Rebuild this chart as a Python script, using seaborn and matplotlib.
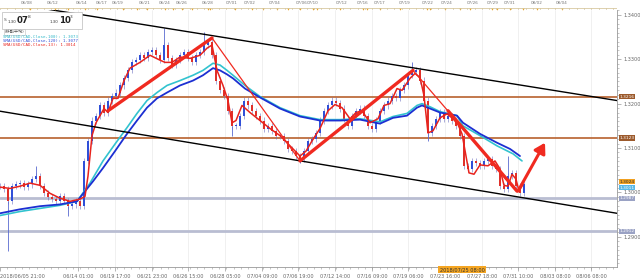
import numpy as np
import pandas as pd
import matplotlib
matplotlib.use("Agg")
import matplotlib.pyplot as plt
import seaborn as sns
from matplotlib.ticker import FixedLocator, MultipleLocator

sns.set_theme(style="white")
plt.rcParams['font.family'] = ['DejaVu Sans', 'Noto Sans CJK JP']

# ---------------- data (x = bar index, y = price) ----------------
close = [1.3014, 1.3007, 1.2980, 1.3014, 1.3018, 1.3021, 1.3012, 1.3018, 1.3030, 1.3037,
         1.3014, 1.2998, 1.2989, 1.2985, 1.2980, 1.2991, 1.2980, 1.2969, 1.2973, 1.2980,
         1.2969, 1.3071, 1.3116, 1.3162, 1.3173, 1.3196, 1.3180, 1.3207, 1.3218, 1.3225,
         1.3241, 1.3257, 1.3275, 1.3293, 1.3298, 1.3309, 1.3302, 1.3316, 1.3320, 1.3309,
         1.3298, 1.3332, 1.3302, 1.3287, 1.3298, 1.3309, 1.3316, 1.3302, 1.3293, 1.3309,
         1.3316, 1.3332, 1.3339, 1.3309, 1.3252, 1.3230, 1.3218, 1.3184, 1.3150, 1.3150,
         1.3173, 1.3207, 1.3196, 1.3184, 1.3173, 1.3162, 1.3144, 1.3150, 1.3139, 1.3128,
         1.3128, 1.3116, 1.3098, 1.3093, 1.3082, 1.3075, 1.3093, 1.3116, 1.3121, 1.3134,
         1.3162, 1.3184, 1.3196, 1.3207, 1.3202, 1.3189, 1.3166, 1.3150, 1.3173, 1.3184,
         1.3189, 1.3173, 1.3150, 1.3144, 1.3162, 1.3184, 1.3196, 1.3207, 1.3218, 1.3212,
         1.3230, 1.3241, 1.3264, 1.3271, 1.3275, 1.3252, 1.3207, 1.3134, 1.3150, 1.3166,
         1.3180, 1.3166, 1.3173, 1.3162, 1.3150, 1.3128, 1.3060, 1.3053, 1.3071, 1.3066,
         1.3060, 1.3071, 1.3075, 1.3060, 1.3053, 1.3014, 1.3007, 1.3037, 1.3044, 1.3014,
         1.2998, 1.3018]
wick_bar = [8, 36, 68, 164, 204, 232, 300, 412, 428, 508]
wick_price = [1.2867, 1.3060, 1.2946, 1.3370, 1.3361, 1.3128, 1.3066, 1.3293, 1.3116, 1.3082]

sma13_bar = [0, 10, 20, 30, 40, 50, 60, 70, 80, 85, 88, 92, 96, 104, 108, 113, 118, 124, 130, 140,
             150, 160, 165, 172, 180, 190, 200, 207, 212, 217, 223, 228, 232, 236, 242, 250, 260,
             270, 280, 290, 300, 306, 312, 320, 328, 335, 342, 350, 356, 362, 370, 378, 384, 390,
             397, 402, 410, 415, 420, 424, 428, 433, 440, 447, 453, 458, 462, 466, 469, 474, 480,
             488, 495, 500, 504, 508, 512, 516, 519, 523]
sma13 = [1.3012, 1.3009, 1.3014, 1.3021, 1.3016, 1.2998, 1.2987, 1.2980, 1.2985, 1.2991, 1.3037,
         1.3128, 1.3157, 1.3189, 1.3180, 1.3212, 1.3212, 1.3252, 1.3280, 1.3293, 1.3309, 1.3298,
         1.3293, 1.3293, 1.3305, 1.3302, 1.3309, 1.3325, 1.3332, 1.3275, 1.3241, 1.3207, 1.3157,
         1.3162, 1.3196, 1.3180, 1.3162, 1.3144, 1.3128, 1.3105, 1.3082, 1.3093, 1.3116, 1.3144,
         1.3184, 1.3198, 1.3191, 1.3166, 1.3180, 1.3184, 1.3157, 1.3166, 1.3196, 1.3200, 1.3234,
         1.3230, 1.3257, 1.3268, 1.3259, 1.3218, 1.3134, 1.3139, 1.3168, 1.3177, 1.3166, 1.3153,
         1.3132, 1.3082, 1.3044, 1.3041, 1.3062, 1.3060, 1.3071, 1.3053, 1.3016, 1.3014, 1.3041,
         1.3030, 1.3003, 1.3018]

ma_bar_blue = [0, 20, 40, 60, 77, 93, 103, 115, 127, 137, 147, 157, 167, 180, 193, 203, 213, 220,
               227, 233, 245, 260, 280, 300, 320, 340, 360, 380, 393, 407, 417, 422, 430, 440, 457,
               463, 480, 497, 510, 520]
ma_blue = [1.2953, 1.2962, 1.2969, 1.2973, 1.2980, 1.3025, 1.3055, 1.3093, 1.3132, 1.3162, 1.3191,
           1.3212, 1.3225, 1.3241, 1.3252, 1.3264, 1.3280, 1.3275, 1.3266, 1.3257, 1.3234, 1.3214,
           1.3189, 1.3171, 1.3162, 1.3162, 1.3164, 1.3155, 1.3168, 1.3173, 1.3191, 1.3196, 1.3189,
           1.3180, 1.3173, 1.3157, 1.3132, 1.3112, 1.3098, 1.3082]
ma_bar_cyan = [0, 20, 40, 60, 77, 90, 103, 115, 127, 137, 147, 157, 167, 180, 193, 203, 213, 220,
               227, 233, 245, 260, 280, 300, 320, 340, 360, 380, 393, 407, 417, 422, 430, 440, 457,
               463, 480, 497, 513, 522]
ma_cyan = [1.2948, 1.2957, 1.2964, 1.2971, 1.2980, 1.3021, 1.3071, 1.3109, 1.3146, 1.3178, 1.3207,
           1.3225, 1.3241, 1.3252, 1.3264, 1.3275, 1.3291, 1.3287, 1.3275, 1.3264, 1.3241, 1.3216,
           1.3191, 1.3173, 1.3164, 1.3164, 1.3166, 1.3159, 1.3171, 1.3178, 1.3196, 1.3200, 1.3193,
           1.3182, 1.3173, 1.3150, 1.3128, 1.3105, 1.3087, 1.3071]

chan_bar = [0, 617]
chan_upper = [1.3430, 1.3207]
chan_lower = [1.3183, 1.2953]

red_thick = [((108, 1.3184), (212, 1.3348)), ((300, 1.3071), (413, 1.3275)), ((448, 1.3184), (517, 1.3003))]
red_thin = [((212, 1.3348), (300, 1.3071)), ((413, 1.3275), (517, 1.3003))]
arrow_from = (518, 1.3003)
arrow_to = (545, 1.3112)

hlines_brown = [1.3216, 1.3123]
hlines_gray = [1.2987, 1.2912]
tag_prices = [1.3216, 1.3123, 1.3024, 1.3011, 1.2987, 1.2912]
tag_colors = ["#9c5a2c", "#9c5a2c", "#f0a020", "#58b8e8", "#9aa2c4", "#9aa2c4"]

ytick_vals = [1.29, 1.30, 1.31, 1.32, 1.33, 1.34]
xtick_pos = [0, 78, 115, 152, 188, 225, 262, 298, 335, 372, 408, 445, 482, 518, 555, 591]
xtick_lab = ["2018/06/05 21:00", "06/14 01:00", "06/19 17:00", "06/21 23:00", "06/26 15:00",
             "06/28 05:00", "07/04 09:00", "07/06 19:00", "07/12 14:00", "07/16 09:00",
             "07/19 06:00", "07/23 16:00", "07/27 18:00", "07/31 10:00", "08/03 08:00", "08/06 08:00"]
top_pos = [27, 53, 82, 102, 118, 145, 165, 182, 208, 232, 250, 275, 302, 313, 342, 363, 380,
           405, 428, 447, 473, 493, 510, 537, 562]
top_lab = ["06/08", "06/12", "06/14", "06/17", "06/19", "06/21", "06/24", "06/26", "06/28",
           "07/01", "07/02", "07/04", "07/06", "07/10", "07/12", "07/16", "07/17", "07/19",
           "07/22", "07/24", "07/26", "07/29", "07/31", "08/02", "08/04"]
event_pos = [30, 55, 68, 85, 97, 123, 137, 147, 165, 173, 182, 192, 208, 210, 235, 252, 263, 277,
             288, 300, 313, 317, 340, 363, 367, 380, 400, 427, 430, 445, 460, 470, 492, 497, 510,
             523, 537, 562]

# ---------------- figure ----------------
W, H = 640, 278
fig = plt.figure(figsize=(6.4, 2.78), dpi=100)
ax = fig.add_axes([0, 11 / H, 617 / W, 257 / H])
ymin, ymax = 1.2832, 1.3411
ax.set_xlim(0, 617)
ax.set_ylim(ymin, ymax)

# grid
for xp in xtick_pos[1:]:
    ax.axvline(xp, color="#eeeeee", lw=0.6, zorder=0)

# horizontal levels
for p in hlines_brown:
    ax.axhline(p, color="#b8612e", lw=1.2, zorder=1)
for p in hlines_gray:
    ax.axhline(p, color="#b9bdd2", lw=2.0, zorder=1)

# candles (open = previous close)
bars = np.arange(len(close)) * 4
opens = [close[0]] + close[:-1]
for b, o, c in zip(bars, opens, close):
    col = "#2f4fd8" if c >= o else "#e0302a"
    lo, hi = min(o, c), max(o, c)
    ax.vlines(b, lo - 0.0007, hi + 0.0007, color="#6a6fc0", lw=0.4, zorder=2)
    ax.bar(b, max(hi - lo, 0.00015), bottom=lo, width=2.2, color=col, lw=0, zorder=2)
for b, p in zip(wick_bar, wick_price):
    ref = close[int(b // 4)]
    ax.vlines(b, min(ref, p), max(ref, p), color="#5a6ad0", lw=0.6, zorder=2)

# moving averages
sns.lineplot(x=ma_bar_cyan, y=ma_cyan, ax=ax, color="#32c3cf", lw=1.2, zorder=3)
sns.lineplot(x=ma_bar_blue, y=ma_blue, ax=ax, color="#1c2fd2", lw=1.3, zorder=3)
sns.lineplot(x=sma13_bar, y=sma13, ax=ax, color="#e8231d", lw=1.1, zorder=4)

# channel lines
ax.plot(chan_bar, chan_upper, color="black", lw=1.0, zorder=5)
ax.plot(chan_bar, chan_lower, color="black", lw=1.0, zorder=5)

# red trend lines
for (a, b) in red_thin:
    ax.plot([a[0], b[0]], [a[1], b[1]], color="#f02a20", lw=0.9, zorder=6)
for (a, b) in red_thick:
    ax.plot([a[0], b[0]], [a[1], b[1]], color="#f02a20", lw=2.4, zorder=6, solid_capstyle="round")
ax.annotate("", xy=arrow_to, xytext=arrow_from,
            arrowprops=dict(arrowstyle="-|>,head_length=0.5,head_width=0.3", color="#f02a20",
                            lw=2.2, shrinkA=0, shrinkB=0), zorder=6)

# axes styling
for s in ["top", "left"]:
    ax.spines[s].set_visible(False)
ax.spines["right"].set_color("#999999")
ax.spines["bottom"].set_color("#999999")
ax.spines["right"].set_linewidth(0.6)
ax.spines["bottom"].set_linewidth(0.6)
ax.yaxis.tick_right()
ax.yaxis.set_major_locator(FixedLocator(ytick_vals))
ax.set_yticklabels([f"{v:.4f}" for v in ytick_vals])
ax.yaxis.set_minor_locator(MultipleLocator(0.001))
ax.tick_params(axis="y", which="major", length=3, width=0.5, color="#999999",
               labelsize=3.6, labelcolor="#666666", pad=1.5, right=True)
ax.tick_params(axis="y", which="minor", length=1.5, width=0.4, color="#999999", right=True)
ax.xaxis.set_major_locator(FixedLocator(xtick_pos))
ax.set_xticklabels(xtick_lab)
ax.xaxis.set_minor_locator(MultipleLocator(7.3))
ax.tick_params(axis="x", which="major", length=3, width=0.5, color="#999999",
               labelsize=3.6, labelcolor="#666666", pad=1.5, bottom=True)
ax.tick_params(axis="x", which="minor", length=1.5, width=0.4, color="#999999", bottom=True)
ax.get_xticklabels()[0].set_horizontalalignment("left")
ax.set_xlabel("")
ax.set_ylabel("")

# cursor date tag on x axis
ax.text(462, ymin, "2018/07/25 08:00", transform=ax.transData, fontsize=3.6, color="#333333",
        ha="center", va="top", zorder=10,
        bbox=dict(boxstyle="square,pad=0.25", fc="#f5a623", ec="none"))
# price tags on right axis
for p, c in zip(tag_prices, tag_colors):
    ax.text(1.004, p, f"{p:.4f}", transform=ax.get_yaxis_transform(), fontsize=3.2,
            color="white" if c != "#f0a020" else "#333333", ha="left", va="center",
            bbox=dict(boxstyle="square,pad=0.15", fc=c, ec="none"), clip_on=False, zorder=10)

# top timeline strip
axt = fig.add_axes([0, 268 / H, 617 / W, 10 / H])
axt.set_xlim(0, 617)
axt.set_ylim(0, 1)
axt.axis("off")
axt.axhline(0.25, color="#d8c9a0", lw=0.6)
axt.vlines(np.arange(0, 617, 7.3), 0.05, 0.25, color="#c8b890", lw=0.4)
axt.scatter(event_pos, [0.12] * len(event_pos), marker="v", s=3, color="#e8a020", lw=0)
for xp, lab in zip(top_pos, top_lab):
    axt.text(xp, 0.72, lab, fontsize=3.0, color="#777777", ha="center", va="center")

# info box (top-left)
fig.patches.append(plt.Rectangle((2 / W, 1 - 29 / H), 80 / W, 17 / H, transform=fig.transFigure,
                                 fc="white", ec="#bbbbbb", lw=0.5, zorder=20))
fig.text(3.5 / W, 1 - 20 / H, "S", fontsize=3.2, color="#555555", va="center", zorder=21)
fig.text(8 / W, 1 - 22 / H, "1.30", fontsize=2.8, color="#333333", va="center", zorder=21)
fig.text(17 / W, 1 - 20.5 / H, "07", fontsize=6.2, weight="bold", color="#222222", va="center", zorder=21)
fig.text(28 / W, 1 - 17 / H, "8", fontsize=3.2, color="#333333", va="center", zorder=21)
fig.text(50 / W, 1 - 22 / H, "1.30", fontsize=2.8, color="#333333", va="center", zorder=21)
fig.text(59 / W, 1 - 20.5 / H, "10", fontsize=6.2, weight="bold", color="#222222", va="center", zorder=21)
fig.text(70 / W, 1 - 17 / H, "3", fontsize=3.2, color="#333333", va="center", zorder=21)
fig.text(5 / W, 1 - 32 / H, "(移動平均)", fontsize=3.0, color="#555555", va="center",
         bbox=dict(boxstyle="square,pad=0.15", fc="white", ec="#bbbbbb", lw=0.4))
legend_lines = [("SMA(USD/CAD,Close,100): 1.3073", "#30b8c8"),
                ("SMA(USD/CAD,Close,120): 1.3077", "#2f4fd8"),
                ("SMA(USD/CAD,Close,13): 1.3014", "#e8231d")]
for i, (t, c) in enumerate(legend_lines):
    fig.text(3 / W, 1 - (36.5 + 4 * i) / H, t, fontsize=3.0, color=c, va="center",
             family=["DejaVu Sans Mono", "DejaVu Sans"])

fig.savefig("out.png", dpi=100, facecolor="white")
